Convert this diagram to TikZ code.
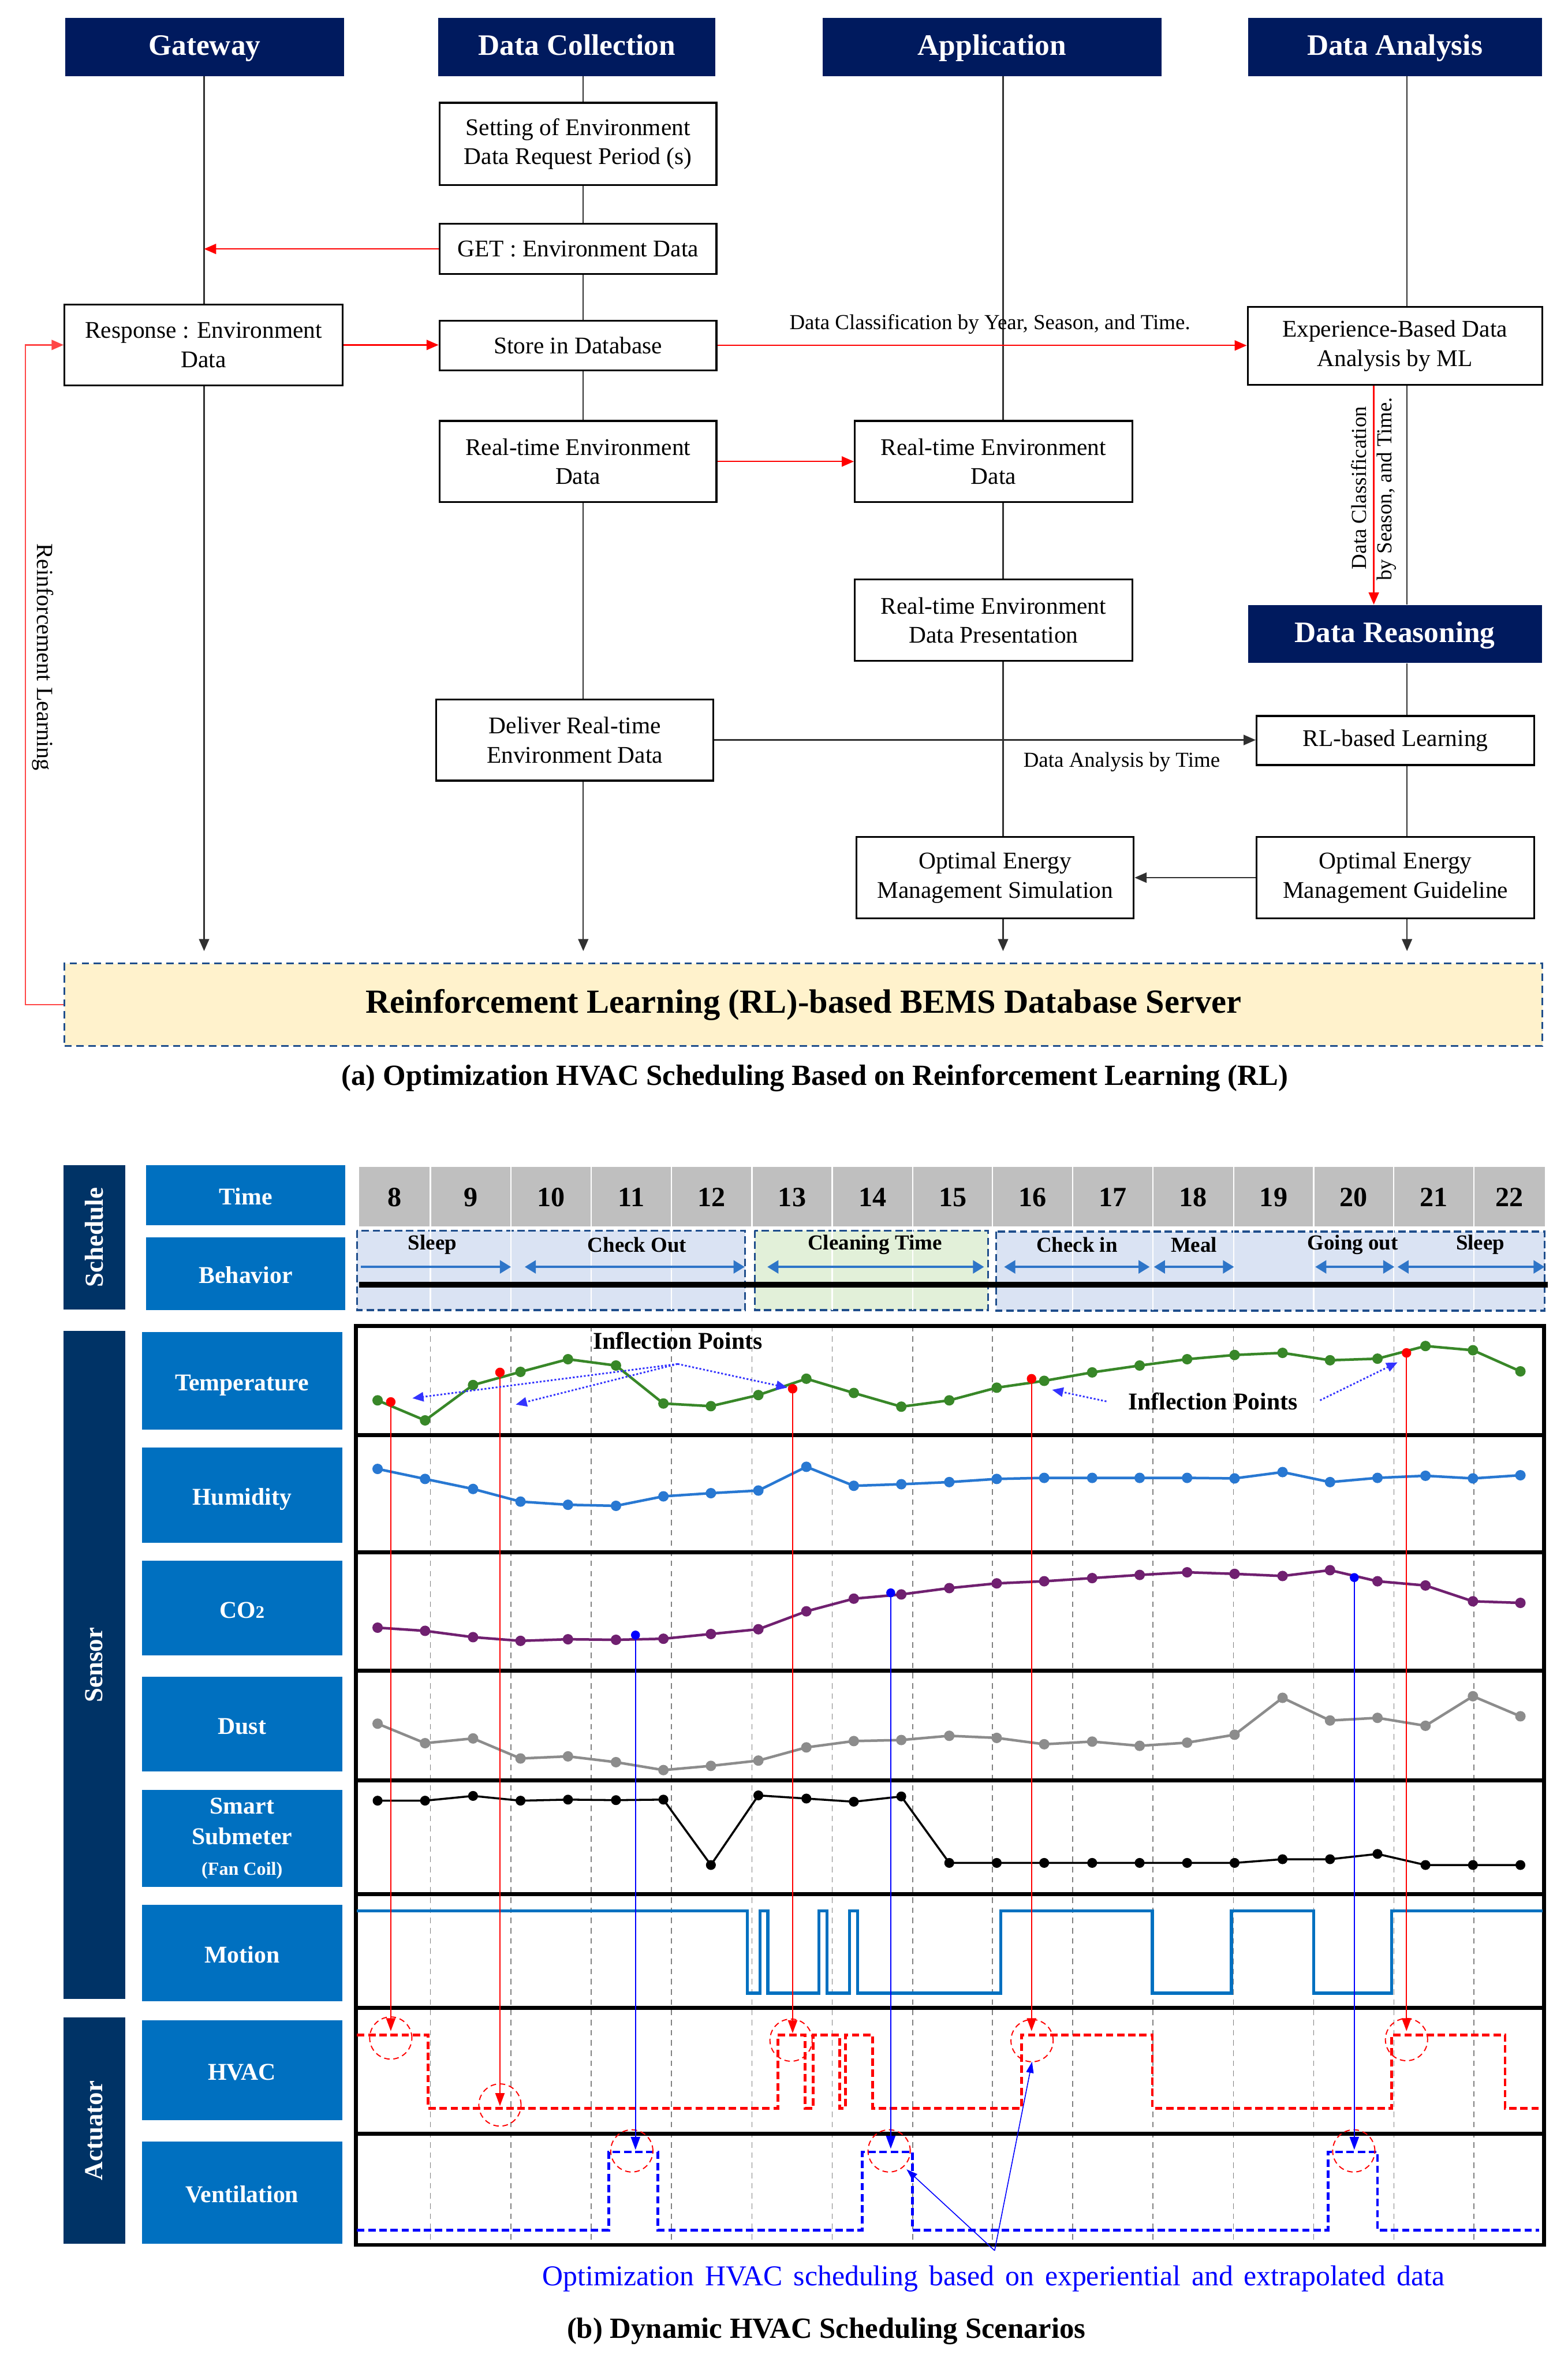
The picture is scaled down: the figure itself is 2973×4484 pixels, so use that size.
\documentclass[tikz,border=0pt]{standalone}
\usepackage{fontspec}
\setmainfont{Liberation Serif}
\usetikzlibrary{arrows.meta}
\definecolor{navyA}{RGB}{0,26,94}
\definecolor{navyB}{RGB}{0,51,102}
\definecolor{lblue}{RGB}{0,112,192}
\definecolor{cellgray}{RGB}{191,191,191}
\definecolor{bhblue}{RGB}{218,227,243}
\definecolor{bhgreen}{RGB}{226,240,217}
\definecolor{dashblue}{RGB}{31,78,140}
\definecolor{arrblue}{RGB}{46,117,200}
\definecolor{bemsfill}{RGB}{255,242,204}
\definecolor{tempgreen}{RGB}{56,135,40}
\definecolor{humblue}{RGB}{40,120,210}
\definecolor{co2purple}{RGB}{112,32,112}
\definecolor{dustgray}{RGB}{140,140,140}
\definecolor{motblue}{RGB}{0,112,192}
\definecolor{lifegray}{RGB}{48,48,48}
\definecolor{rlred}{RGB}{255,70,70}
\begin{document}
\begin{tikzpicture}[x=0.01cm,y=-0.01cm,
 hdr/.style={fill=navyA,text=white,inner sep=0pt,text height=12.5pt,text depth=3.5pt,font=\bfseries\fontsize{16}{19}\selectfont},
 box/.style={draw=black,line width=1pt,fill=white,inner sep=0pt,align=center,font=\fontsize{12.9}{15.8}\selectfont},
 life/.style={draw=lifegray,line width=0.7pt},
 lifearr/.style={draw=lifegray,line width=0.7pt,-{Triangle[length=6.5pt,width=5.5pt]},shorten >=0.22cm},
 redarr/.style={draw=red,line width=0.7pt,-{Triangle[length=6.5pt,width=5.5pt]}},
 blkarr/.style={draw=lifegray,line width=0.7pt,-{Triangle[length=6.5pt,width=5.5pt]}},
 lbl/.style={inner sep=0pt,font=\fontsize{11.5}{13}\selectfont},
 side/.style={fill=navyB,text=white,inner sep=0pt,font=\bfseries\fontsize{14}{16}\selectfont},
 cat/.style={fill=lblue,text=white,inner sep=0pt,align=center,font=\bfseries\fontsize{13}{16.5}\selectfont},
 catone/.style={cat,text height=13pt,text depth=2.5pt},
 bhbox/.style={draw=dashblue,line width=1pt,dash pattern=on 4pt off 2pt},
 bharr/.style={draw=arrblue,line width=1.2pt,{Triangle[length=6pt,width=7pt]}-{Triangle[length=6pt,width=7pt]}},
 bharrone/.style={draw=arrblue,line width=1.2pt,-{Triangle[length=6pt,width=7pt]}},
 bhlbl/.style={inner sep=0pt,font=\bfseries\fontsize{11.5}{13}\selectfont},
 gline/.style={draw=gray,line width=0.5pt,dash pattern=on 3pt off 2.5pt},
 ser/.style={line width=1.4pt,mark=*,mark size=2.1pt},
 stepred/.style={draw=red,line width=1.5pt,dash pattern=on 4pt off 2pt},
 stepblue/.style={draw=blue,line width=1.5pt,dash pattern=on 4pt off 2pt},
 ring/.style={draw=red,line width=0.6pt,dash pattern=on 3pt off 2pt},
 vred/.style={draw=red,line width=0.7pt,-{Triangle[length=7pt,width=5pt]}},
 vblue/.style={draw=blue,line width=0.7pt,-{Triangle[length=7pt,width=5pt]}},
 dotarr/.style={draw=blue!80!white,line width=0.9pt,dash pattern=on 1pt off 1pt,-{Triangle[length=6pt,width=5pt]}},
 thinarr/.style={draw=blue,line width=0.5pt,-{Triangle[length=6pt,width=4pt]}},
 iplbl/.style={inner sep=0pt,font=\bfseries\fontsize{13}{15}\selectfont},
 captxt/.style={inner sep=0pt,font=\bfseries\fontsize{15.8}{18}\selectfont}
]
\useasboundingbox (0,0) rectangle (2973,4484);
\fill[white] (0,0) rectangle (2973,4484);

% ================= PART (a) =================
\node[hdr,minimum width=5.28cm,minimum height=1.1cm] (hG) at (388,89) {Gateway};
\node[hdr,minimum width=5.25cm,minimum height=1.1cm] (hDC) at (1094,89) {Data Collection};
\node[hdr,minimum width=6.42cm,minimum height=1.1cm] (hApp) at (1881,89) {Application};
\node[hdr,minimum width=5.57cm,minimum height=1.1cm] (hDA) at (2645,89) {Data Analysis};

\node[box,minimum width=5.25cm,minimum height=1.56cm] (set) at (1096,273) {Setting of Environment\\Data Request Period (s)};
\node[box,minimum width=5.25cm,minimum height=0.95cm] (get) at (1096,472) {GET : Environment Data};
\node[box,minimum width=5.27cm,minimum height=1.53cm] (resp) at (386,654) {Response : Environment\\Data};
\node[box,minimum width=5.25cm,minimum height=0.94cm] (store) at (1096,655) {Store in Database};
\node[box,minimum width=5.25cm,minimum height=1.54cm] (rtDC) at (1096,875) {Real-time Environment\\Data};
\node[box,minimum width=5.58cm,minimum height=1.48cm] (exp) at (2645,656) {Experience-Based Data\\Analysis by ML};
\node[box,minimum width=5.26cm,minimum height=1.54cm] (rtApp) at (1884,875) {Real-time Environment\\Data};
\node[box,minimum width=5.26cm,minimum height=1.54cm] (pres) at (1884,1176) {Real-time Environment\\Data Presentation};
\node[hdr,minimum width=5.57cm,minimum height=1.1cm] (hDR) at (2645,1202) {Data Reasoning};
\node[box,minimum width=5.25cm,minimum height=1.54cm] (deliver) at (1090,1403) {Deliver Real-time\\Environment Data};
\node[box,minimum width=5.26cm,minimum height=0.93cm] (rlL) at (2646,1404) {RL-based Learning};
\node[box,minimum width=5.25cm,minimum height=1.54cm] (sim) at (1887,1664) {Optimal Energy\\Management Simulation};
\node[box,minimum width=5.26cm,minimum height=1.54cm] (guide) at (2646,1664) {Optimal Energy\\Management Guideline};
\node[draw=dashblue,line width=1pt,dash pattern=on 4pt off 2.5pt,fill=bemsfill,minimum width=28.01cm,minimum height=1.56cm,inner sep=0pt,font=\bfseries\fontsize{18.2}{21}\selectfont] (bems) at (1523.5,1905) {Reinforcement Learning (RL)-based BEMS Database Server};

\coordinate (xG) at (387,0);
\coordinate (xDC) at (1106,0);
\coordinate (xApp) at (1902,0);
\coordinate (xDA) at (2668,0);
\coordinate (xR) at (2605,0);

% lifelines
\draw[life] (hG.south -| xG) -- (resp.north -| xG);
\draw[lifearr] (resp.south -| xG) -- (bems.north -| xG);
\draw[life] (hDC.south -| xDC) -- (set.north -| xDC);
\draw[life] (set.south -| xDC) -- (get.north -| xDC);
\draw[life] (get.south -| xDC) -- (store.north -| xDC);
\draw[life] (store.south -| xDC) -- (rtDC.north -| xDC);
\draw[life] (rtDC.south -| xDC) -- (deliver.north -| xDC);
\draw[lifearr] (deliver.south -| xDC) -- (bems.north -| xDC);
\draw[life] (hApp.south -| xApp) -- (rtApp.north -| xApp);
\draw[life] (rtApp.south -| xApp) -- (pres.north -| xApp);
\draw[life] (pres.south -| xApp) -- (sim.north -| xApp);
\draw[lifearr] (sim.south -| xApp) -- (bems.north -| xApp);
\draw[life] (hDA.south -| xDA) -- (exp.north -| xDA);
\draw[life] (exp.south -| xDA) -- (hDR.north -| xDA);
\draw[life] (hDR.south -| xDA) -- (rlL.north -| xDA);
\draw[life] (rlL.south -| xDA) -- (guide.north -| xDA);
\draw[lifearr] (guide.south -| xDA) -- (bems.north -| xDA);

% messages
\draw[redarr] (get.west) -- (get.west -| xG);
\draw[redarr] (resp.east) -- (resp.east -| store.west);
\draw[redarr] (store.east) -- (store.east -| exp.west);
\node[lbl] (lclass) at (1877,615) {Data Classification by Year, Season, and Time.};
\draw[redarr] (rtDC.east) -- (rtDC.east -| rtApp.west);
\draw[redarr] (exp.south -| xR) -- (hDR.north -| xR);
\node[lbl,rotate=90] (lcls1) at (2577,925) {Data Classification};
\node[lbl,rotate=90] (lcls2) at (2629,927) {by Season, and Time.};
\draw[blkarr] (deliver.east) -- (deliver.east -| rlL.west);
\node[lbl] (ltime) at (2127,1445) {Data Analysis by Time};
\draw[blkarr] (guide.west) -- (guide.west -| sim.east);
\draw[redarr,draw=rlred] (bems.west) -- ++(-72,0) |- (resp.west);
\node[inner sep=0pt,rotate=-90,font=\fontsize{12.5}{14}\selectfont] (lrl) at (81,1246) {Reinforcement Learning};

\node[captxt] (capa) at (1545,2044) {(a) Optimization HVAC Scheduling Based on Reinforcement Learning (RL)};

% ================= PART (b) =================
\node[side,minimum width=1.17cm,minimum height=2.74cm] (sched) at (178.5,2346) {\rotatebox{90}{Schedule}};
\node[side,minimum width=1.17cm,minimum height=12.66cm] (sens) at (178.5,3157) {\rotatebox{90}{Sensor}};
\node[side,minimum width=1.17cm,minimum height=4.29cm] (act) at (178.5,4039.5) {\rotatebox{90}{Actuator}};

\node[catone,minimum width=3.78cm,minimum height=1.14cm] (cTime) at (466,2266) {Time};
\node[catone,minimum width=3.78cm,minimum height=1.38cm] (cBeh) at (466,2415) {Behavior};
\node[catone,minimum width=3.8cm,minimum height=1.84cm] (cTemp) at (459,2618) {Temperature};
\node[catone,minimum width=3.8cm,minimum height=1.8cm] (cHum) at (459,2835) {Humidity};
\node[catone,minimum width=3.8cm,minimum height=1.8cm] (cCO) at (459,3049) {CO{\fontsize{9.5}{9.5}\selectfont 2}};
\node[catone,minimum width=3.8cm,minimum height=1.8cm] (cDust) at (459,3269) {Dust};
\node[cat,minimum width=3.8cm,minimum height=1.83cm] (cSmart) at (459,3485.5) {Smart\\Submeter\\{\fontsize{10}{12}\selectfont (Fan Coil)}};
\node[catone,minimum width=3.8cm,minimum height=1.83cm] (cMot) at (459,3702.5) {Motion};
\node[catone,minimum width=3.8cm,minimum height=1.89cm] (cHVAC) at (459,3925.5) {HVAC};
\node[catone,minimum width=3.8cm,minimum height=1.94cm] (cVent) at (459,4157) {Ventilation};

% time cells
\foreach \a/\b/\n in {681/816/8,816/969/9,969/1121/10,1121/1273/11,1273/1426/12,1426/1578/13,1578/1731/14,1731/1882/15,1882/2034/16,2034/2186/17,2186/2339/18,2339/2491/19,2491/2643/20,2643/2795/21,2795/2929/22}{
  \fill[cellgray] (\a,2212) rectangle (\b,2325);
  \node[inner sep=0pt,font=\bfseries\fontsize{15}{17}\selectfont] (t\n) at ({(\a+\b)/2},2270) {\n};
}
% behavior boxes
\draw[bhbox,fill=bhblue] (677,2333) rectangle (1413,2484);
\draw[bhbox,fill=bhgreen] (1431,2333) rectangle (1874,2484);
\draw[bhbox,fill=bhblue] (1889,2335) rectangle (2929,2485);
\foreach \x in {816,969,1121,1273,1426,1578,1731,1882,2034,2186,2339,2491,2643,2795}
  \draw[white,line width=0.7pt] (\x,2212) -- (\x,2484);
\draw[line width=3pt] (681,2436) -- (2935,2436);
\node[bhlbl] (bSleep) at (820,2360) {Sleep};
\node[bhlbl] (bOut) at (1208,2360) {Check Out};
\node[bhlbl] (bClean) at (1659,2360) {Cleaning Time};
\node[bhlbl] (bIn) at (2042,2360) {Check in};
\node[bhlbl] (bMeal) at (2264,2360) {Meal};
\node[bhlbl] (bGo) at (2565,2360) {Going out};
\node[bhlbl] (bSleep2) at (2807,2360) {Sleep};
\draw[bharrone] (684,2402) -- (969,2402);
\draw[bharr] (995,2402) -- (1412,2402);
\draw[bharr] (1455,2402) -- (1866,2402);
\draw[bharr] (1904,2402) -- (2180,2402);
\draw[bharr] (2188,2402) -- (2340,2402);
\draw[bharr] (2494,2402) -- (2644,2402);
\draw[bharr] (2650,2402) -- (2929,2402);

% chart frame
\foreach \x in {816,969,1121,1273,1426,1578,1731,1882,2034,2186,2339,2491,2643,2795}
  \draw[gline] (\x,2514) -- (\x,4256);
\foreach \y in {2721,2943,3168,3376,3591,3807,4046}
  \draw[line width=2.2pt] (675,\y) -- (2928,\y);
\draw[line width=2pt] (675,2514) rectangle (2928,4256);

% series
\draw[ser,tempgreen] plot coordinates {(716,2655) (806,2693) (897,2626) (987,2601) (1077,2577) (1168,2589) (1258,2661) (1348,2666) (1438,2645) (1529,2614) (1619,2641) (1709,2667) (1800,2655) (1890,2631) (1980,2618) (2071,2602) (2161,2589) (2251,2577) (2341,2569) (2432,2565) (2522,2579) (2612,2576) (2703,2552) (2793,2560) (2883,2600)};
\draw[ser,humblue] plot coordinates {(716,2785) (806,2804) (897,2823) (987,2847) (1077,2853) (1168,2855) (1258,2837) (1348,2831) (1438,2826) (1529,2781) (1619,2817) (1709,2814) (1800,2810) (1890,2804) (1980,2802) (2071,2802) (2161,2802) (2251,2802) (2341,2803) (2432,2791) (2522,2810) (2612,2802) (2703,2798) (2793,2803) (2883,2797)};
\draw[ser,co2purple] plot coordinates {(716,3086) (806,3092) (897,3104) (987,3111) (1077,3108) (1168,3109) (1258,3107) (1348,3098) (1438,3089) (1529,3055) (1619,3031) (1709,3023) (1800,3011) (1890,3002) (1980,2998) (2071,2992) (2161,2986) (2251,2981) (2341,2984) (2432,2988) (2522,2977) (2612,2998) (2703,3006) (2793,3036) (2883,3039)};
\draw[ser,dustgray] plot coordinates {(716,3268) (806,3305) (897,3296) (987,3334) (1077,3330) (1168,3341) (1258,3356) (1348,3348) (1438,3338) (1529,3313) (1619,3301) (1709,3299) (1800,3291) (1890,3295) (1980,3307) (2071,3302) (2161,3310) (2251,3304) (2341,3289) (2432,3219) (2522,3262) (2612,3257) (2703,3272) (2793,3216) (2883,3254)};
\draw[ser,black,line width=1.1pt] plot coordinates {(716,3414) (806,3414) (897,3405) (987,3414) (1077,3412) (1168,3413) (1258,3412) (1348,3536) (1438,3404) (1529,3410) (1619,3416) (1709,3406) (1800,3532) (1890,3532) (1980,3532) (2071,3532) (2161,3532) (2251,3532) (2341,3532) (2432,3525) (2522,3525) (2612,3515) (2703,3536) (2793,3536) (2883,3536)};

% motion / HVAC / ventilation
\draw[motblue,line width=1.6pt] (677,3623) -- (1417,3623) -- (1417,3779) -- (1441,3779) -- (1441,3623) -- (1456,3623) -- (1456,3779) -- (1553,3779) -- (1553,3623) -- (1568,3623) -- (1568,3779) -- (1611,3779) -- (1611,3623) -- (1626,3623) -- (1626,3779) -- (1898,3779) -- (1898,3623) -- (2185,3623) -- (2185,3779) -- (2335,3779) -- (2335,3623) -- (2491,3623) -- (2491,3779) -- (2639,3779) -- (2639,3623) -- (2925,3623);
\draw[stepred] (677,3858) -- (812,3858) -- (812,3997) -- (1475,3997) -- (1475,3858) -- (1527,3858) -- (1527,3997) -- (1542,3997) -- (1542,3858) -- (1592,3858) -- (1592,3997) -- (1603,3997) -- (1603,3858) -- (1655,3858) -- (1655,3997) -- (1937,3997) -- (1937,3858) -- (2185,3858) -- (2185,3997) -- (2639,3997) -- (2639,3858) -- (2854,3858) -- (2854,3997) -- (2919,3997);
\draw[stepblue] (677,4228) -- (1154,4228) -- (1154,4080) -- (1247,4080) -- (1247,4228) -- (1635,4228) -- (1635,4080) -- (1730,4080) -- (1730,4228) -- (2518,4228) -- (2518,4080) -- (2612,4080) -- (2612,4228) -- (2919,4228);

% dashed rings
\foreach \p in {(741,3864),(948,3991),(1500,3868),(1957,3869),(2667,3867),(1198,4078),(1686,4078),(2567,4078)}
  \draw[ring] \p circle[radius=0.4cm];

% inflection points and arrows
\coordinate (rp1) at (741,2658);
\coordinate (rp2) at (948,2602);
\coordinate (rp3) at (1503,2633);
\coordinate (rp4) at (1956,2614);
\coordinate (rp5) at (2667,2565);
\coordinate (bp1) at (1205,3100);
\coordinate (bp2) at (1689,3020);
\coordinate (bp3) at (2568,2991);
\draw[vred] (rp1) -- (741,3851);
\draw[vred] (rp2) -- (948,3993);
\draw[vred] (rp3) -- (1503,3855);
\draw[vred] (rp4) -- (1956,3851);
\draw[vred] (rp5) -- (2667,3851);
\draw[vblue] (bp1) -- (1205,4076);
\draw[vblue] (bp2) -- (1689,4074);
\draw[vblue] (bp3) -- (2568,4076);
\foreach \c in {rp1,rp2,rp3,rp4,rp5} \fill[red] (\c) circle[radius=0.09cm];
\foreach \c in {bp1,bp2,bp3} \fill[blue] (\c) circle[radius=0.085cm];

\node[iplbl] (ip1) at (1285,2542) {Inflection Points};
\node[iplbl] (ip2) at (2300,2657) {Inflection Points};
\coordinate (ip1s) at (1285,2586);
\coordinate (ip2w) at (2098,2657);
\coordinate (ip2e) at (2503,2655);
\draw[dotarr] (ip1s) -- (782,2651);
\draw[dotarr] (ip1s) -- (978,2663);
\draw[dotarr] (ip1s) -- (1493,2631);
\draw[dotarr] (ip2w) -- (1995,2635);
\draw[dotarr] (ip2e) -- (2650,2583);

% captions
\node[inner sep=0pt,text=blue,font=\fontsize{15.5}{18}\selectfont] (capo) at (1884,4320) {\makebox[17.1cm][s]{Optimization HVAC scheduling based on experiential and extrapolated data}};
\coordinate (capA) at (1886,4267);
\draw[thinarr] (capA) -- (1957,3909);
\draw[thinarr] (capA) -- (1719,4113);
\node[captxt] (capb) at (1567,4420) {(b) Dynamic HVAC Scheduling Scenarios};
\end{tikzpicture}
\end{document}
